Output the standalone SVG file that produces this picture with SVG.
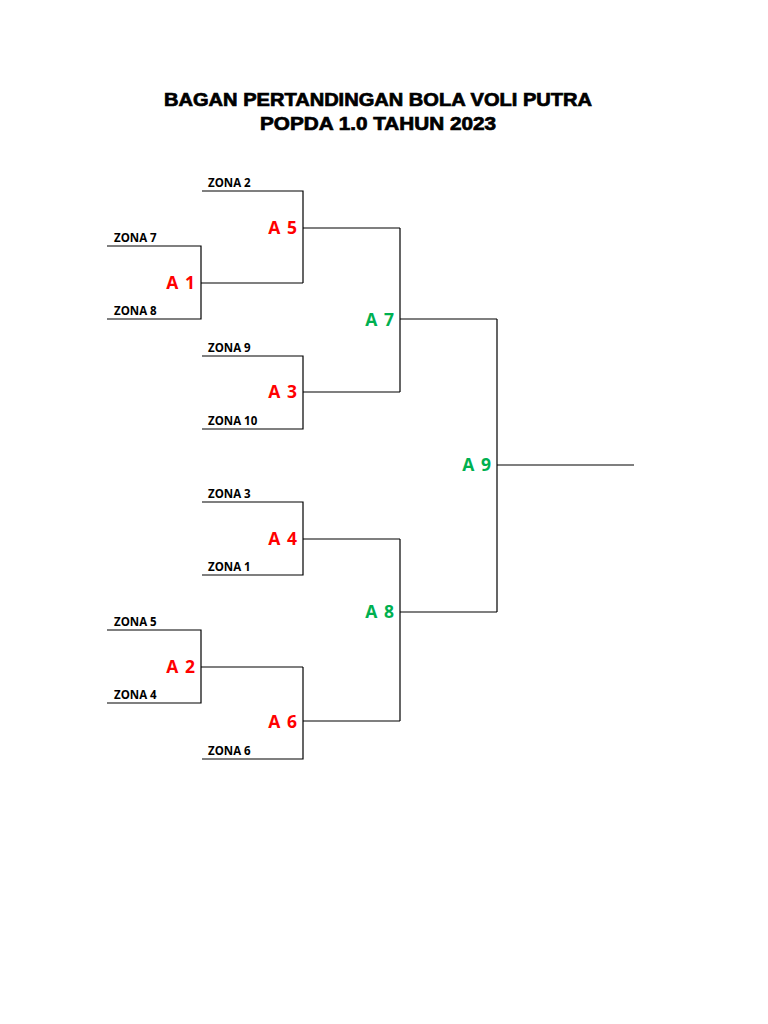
<svg xmlns="http://www.w3.org/2000/svg" width="768" height="1024" viewBox="0 0 768 1024">
<style>
.title{font-family:"Liberation Sans",Arial,sans-serif;font-weight:bold;font-size:18px;fill:#000;stroke:#000;stroke-width:0.7;text-anchor:middle}
.zone{font-family:"Open Sans","Noto Sans",sans-serif;font-weight:bold;font-size:11.5px;fill:#000}
.r{font-family:"Open Sans","Noto Sans",sans-serif;font-weight:bold;font-size:17.5px;fill:#FF0000;text-anchor:end;word-spacing:2px}
.g{font-family:"Open Sans","Noto Sans",sans-serif;font-weight:bold;font-size:17.5px;fill:#00B050;text-anchor:end;word-spacing:2px}
.ln{fill:none;stroke:#000;stroke-width:1.2}
</style>
<rect width="768" height="1024" fill="#fff"/>
<g id="title">
<text class="title" x="378" y="106" textLength="428" lengthAdjust="spacingAndGlyphs">BAGAN PERTANDINGAN BOLA VOLI PUTRA</text>
<text class="title" x="378" y="130" textLength="236" lengthAdjust="spacingAndGlyphs">POPDA 1.0 TAHUN 2023</text>
</g>
<g id="connectors">
<path class="ln" d="M107 246H201V319H107M201 283H303"/>
<path class="ln" d="M202 191H303V283M303 228H400"/>
<path class="ln" d="M202 356H303V429H202M303 392H400"/>
<path class="ln" d="M400 228V392M400 319H497"/>
<path class="ln" d="M202 502H303V575H202M303 539H400"/>
<path class="ln" d="M107 630H201V703H107M201 667H303"/>
<path class="ln" d="M202 759H303V667M303 721H400"/>
<path class="ln" d="M400 539V721M400 612H497"/>
<path class="ln" d="M497 319V612M497 465H634"/>
</g>
<g id="zones">
<text class="zone" x="208" y="187">ZONA 2</text>
<text class="zone" x="114" y="242">ZONA 7</text>
<text class="zone" x="114" y="315">ZONA 8</text>
<text class="zone" x="208" y="352">ZONA 9</text>
<text class="zone" x="208" y="425">ZONA 10</text>
<text class="zone" x="208" y="498">ZONA 3</text>
<text class="zone" x="208" y="571">ZONA 1</text>
<text class="zone" x="114" y="626">ZONA 5</text>
<text class="zone" x="114" y="699">ZONA 4</text>
<text class="zone" x="208" y="755">ZONA 6</text>
</g>
<g id="A1"><text class="r" x="195" y="289">A 1</text></g>
<g id="A2"><text class="r" x="195" y="673">A 2</text></g>
<g id="A3"><text class="r" x="297" y="398">A 3</text></g>
<g id="A4"><text class="r" x="297" y="545">A 4</text></g>
<g id="A5"><text class="r" x="297" y="234">A 5</text></g>
<g id="A6"><text class="r" x="297" y="728">A 6</text></g>
<g id="A7"><text class="g" x="394" y="326">A 7</text></g>
<g id="A8"><text class="g" x="394" y="618">A 8</text></g>
<g id="A9"><text class="g" x="491" y="471">A 9</text></g>
</svg>
